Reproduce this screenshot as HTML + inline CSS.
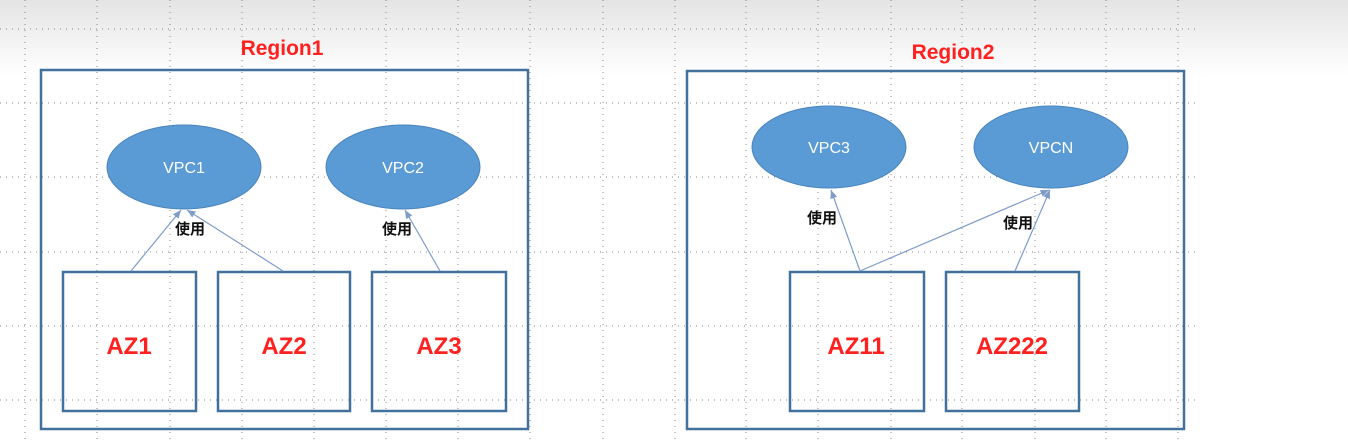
<!DOCTYPE html>
<html><head><meta charset="utf-8"><style>
body{margin:0;width:1348px;height:443px;overflow:hidden;background:#fff;font-family:"Liberation Sans","Noto Sans CJK SC",sans-serif}
</style></head><body>
<svg width="1348" height="443" xmlns="http://www.w3.org/2000/svg">
<defs>
<linearGradient id="g" x1="0" y1="0" x2="0" y2="1"><stop offset="0" stop-color="#e4e4e4"/><stop offset="1" stop-color="#ffffff"/></linearGradient>
<marker id="a" markerWidth="8" markerHeight="8" refX="7" refY="4" orient="auto"><path d="M0,1 L7,4 L0,7 z" fill="#7f9cc8"/></marker>
</defs>
<rect x="0" y="0" width="1348" height="75" fill="url(#g)"/>
<g stroke="#888" stroke-width="1" stroke-dasharray="1,5">
<line x1="0" y1="29" x2="1200" y2="29"/><line x1="0" y1="103" x2="1200" y2="103"/><line x1="0" y1="177" x2="1200" y2="177"/><line x1="0" y1="252" x2="1200" y2="252"/><line x1="0" y1="326" x2="1200" y2="326"/><line x1="0" y1="400" x2="1200" y2="400"/>
<line x1="25" y1="0" x2="25" y2="443"/><line x1="97" y1="0" x2="97" y2="443"/><line x1="170" y1="0" x2="170" y2="443"/><line x1="242" y1="0" x2="242" y2="443"/><line x1="314" y1="0" x2="314" y2="443"/><line x1="386" y1="0" x2="386" y2="443"/><line x1="458" y1="0" x2="458" y2="443"/><line x1="530" y1="0" x2="530" y2="443"/><line x1="603" y1="0" x2="603" y2="443"/><line x1="675" y1="0" x2="675" y2="443"/><line x1="746" y1="0" x2="746" y2="443"/><line x1="818" y1="0" x2="818" y2="443"/><line x1="891" y1="0" x2="891" y2="443"/><line x1="962" y1="0" x2="962" y2="443"/><line x1="1035" y1="0" x2="1035" y2="443"/><line x1="1106" y1="0" x2="1106" y2="443"/><line x1="1178" y1="0" x2="1178" y2="443"/>
</g>
<g fill="none" stroke="#41719c" stroke-width="2.5">
<rect x="41" y="70" width="487" height="359"/>
<rect x="687" y="71" width="497" height="358"/>
<rect x="63" y="272" width="133" height="139"/>
<rect x="218" y="272" width="132" height="139"/>
<rect x="372" y="272" width="134" height="139"/>
<rect x="790" y="272" width="134" height="139"/>
<rect x="946" y="272" width="133" height="139"/>
</g>
<g fill="#5b9bd5" stroke="#4a84bd" stroke-width="1">
<ellipse cx="184" cy="167" rx="77" ry="42"/>
<ellipse cx="403" cy="167" rx="77" ry="42"/>
<ellipse cx="829" cy="147" rx="77" ry="41"/>
<ellipse cx="1051" cy="147" rx="77" ry="41"/>
</g>
<g fill="#fff" font-size="16" text-anchor="middle">
<text x="184" y="173">VPC1</text><text x="403" y="173">VPC2</text><text x="829" y="153">VPC3</text><text x="1051" y="153">VPCN</text>
</g>
<g stroke="#7f9cc8" stroke-width="1.2" marker-end="url(#a)">
<line x1="131" y1="271" x2="181" y2="210"/>
<line x1="283" y1="271" x2="187" y2="210"/>
<line x1="440" y1="271" x2="405" y2="210"/>
<line x1="860" y1="271" x2="831" y2="190"/>
<line x1="860" y1="271" x2="1049" y2="190"/>
<line x1="1015" y1="271" x2="1050" y2="190"/>
</g>
<g font-size="15" font-weight="bold" fill="#111" text-anchor="middle">
<text x="190" y="234">使用</text><text x="397" y="234">使用</text><text x="822" y="223">使用</text><text x="1018" y="228">使用</text>
</g>
<g font-size="24" font-weight="bold" fill="#ff2020" text-anchor="middle">
<text x="129" y="354">AZ1</text><text x="284" y="354">AZ2</text><text x="439" y="354">AZ3</text><text x="856" y="354">AZ11</text><text x="1012" y="354">AZ222</text>
</g>
<g font-size="21" font-weight="bold" fill="#ff2020" text-anchor="middle">
<text x="282" y="55">Region1</text><text x="953" y="59">Region2</text>
</g>
</svg>
</body></html>
